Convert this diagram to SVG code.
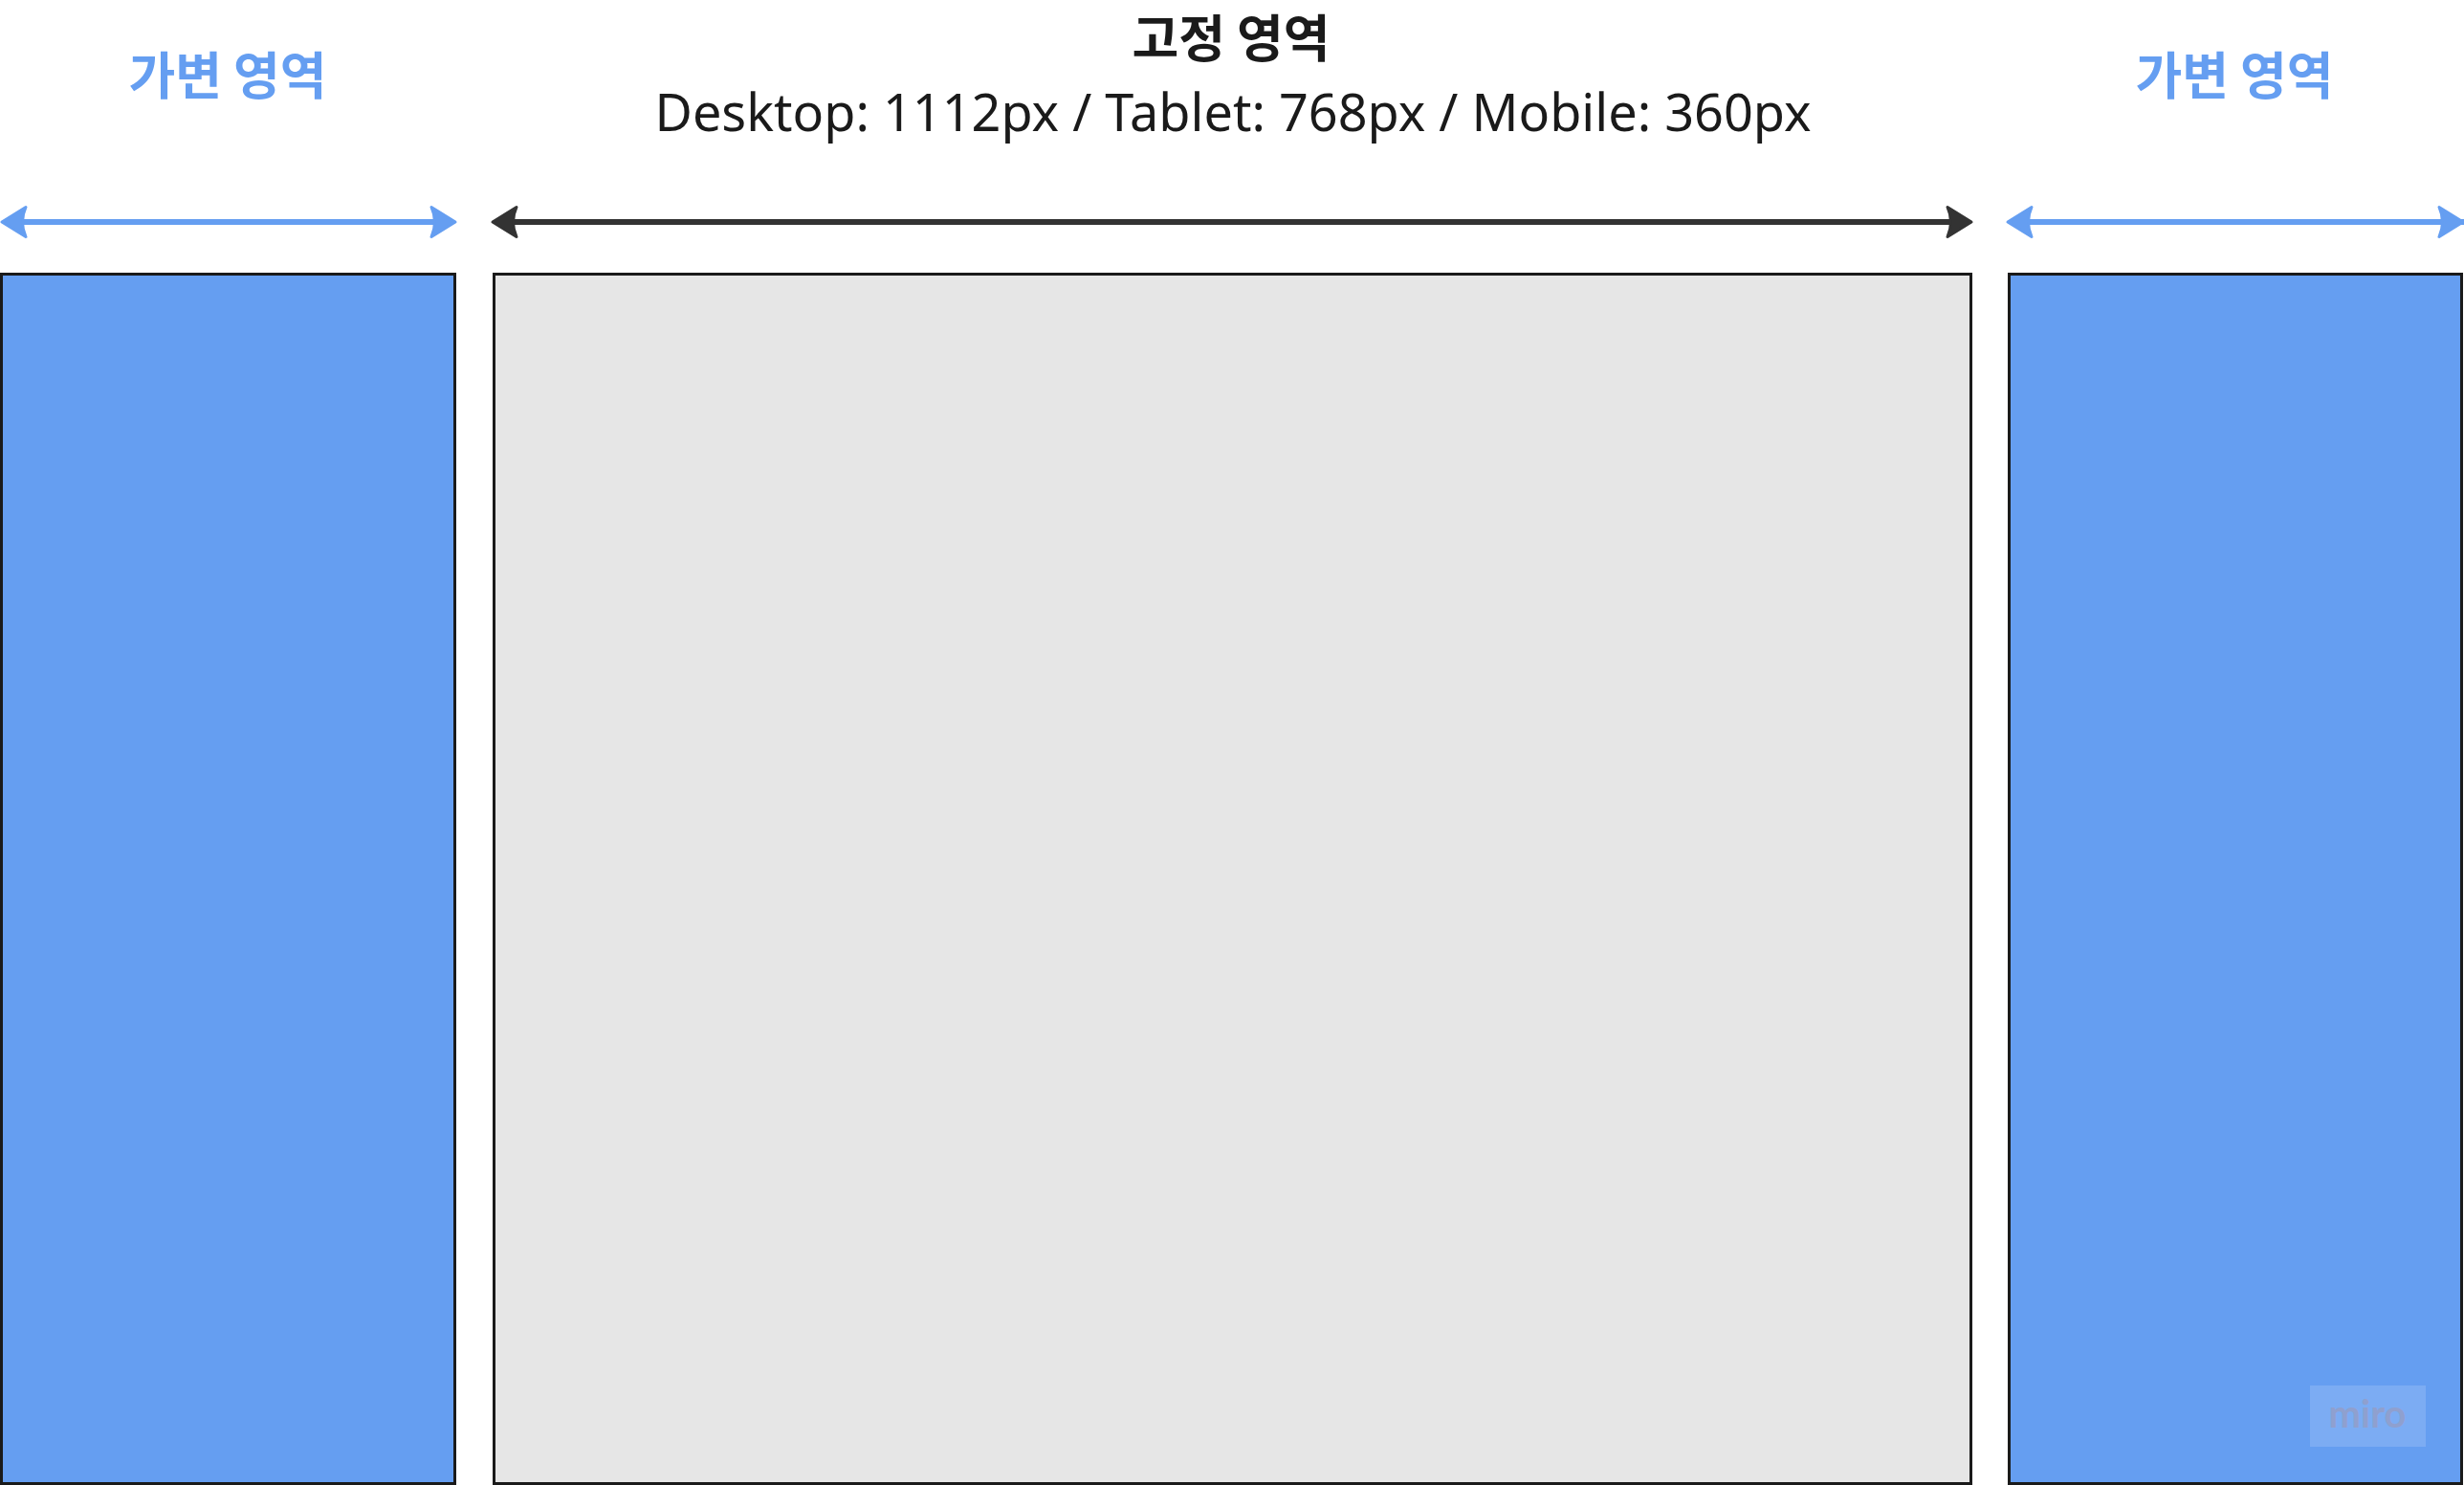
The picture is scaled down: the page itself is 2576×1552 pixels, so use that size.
<svg xmlns="http://www.w3.org/2000/svg" width="2576" height="1552" viewBox="0 0 2576 1552">
<style>
.ko{font-family:"Noto Sans CJK KR","Noto Sans",sans-serif;font-weight:700;font-size:53px;text-anchor:middle}
.blue{fill:#659ef1}
.dark{fill:#1a1a1a}
.sub{font-family:"Noto Sans","Open Sans",sans-serif;font-size:54px;fill:#1a1a1a;text-anchor:middle}
.box{stroke:#1a1a1a;stroke-width:3}
.bl{stroke:#659ef1;stroke-width:6;fill:none}
.dk{stroke:#333333;stroke-width:6;fill:none}
.hb{fill:#659ef1;stroke:#659ef1;stroke-width:3;stroke-linejoin:round}
.hd{fill:#333333;stroke:#333333;stroke-width:3;stroke-linejoin:round}
</style>
<rect width="2576" height="1552" fill="#ffffff"/>
<g id="left-area">
<rect class="box" x="1.5" y="286.5" width="474" height="1264" fill="#659ef1"/>
<text class="ko blue" x="238" y="99">가변 영역</text>
</g>
<g id="fixed-area">
<rect class="box" x="516.5" y="286.5" width="1544" height="1264" fill="#e6e6e6"/>
<text class="ko dark" x="1287" y="60">고정 영역</text>
<text class="sub" x="1289" y="137">Desktop: 1112px / Tablet: 768px / Mobile: 360px</text>
</g>
<g id="right-area">
<rect class="box" x="2100.5" y="286.5" width="473" height="1264" fill="#659ef1"/>
<text class="ko blue" x="2336" y="99">가변 영역</text>
<rect x="2415" y="1448" width="121" height="64" fill="#ffffff" fill-opacity="0.15"/>
<text x="2475" y="1492" font-family="Lato,'Noto Sans',sans-serif" font-weight="700" font-size="40" fill="#8fa0cf" text-anchor="middle">miro</text>
</g>
<g id="connectors">
<line class="bl" x1="18" y1="232" x2="460" y2="232"/>
<path class="hb" d="M2,232 L27,216.5 Q20,232 27,247.5 Z"/>
<path class="hb" d="M476,232 L451,216.5 Q458,232 451,247.5 Z"/>
<line class="dk" x1="532" y1="232" x2="2044" y2="232"/>
<path class="hd" d="M515,232 L540,216.5 Q533,232 540,247.5 Z"/>
<path class="hd" d="M2061,232 L2036,216.5 Q2043,232 2036,247.5 Z"/>
<line class="bl" x1="2115" y1="232" x2="2576" y2="232"/>
<path class="hb" d="M2099,232 L2124,216.5 Q2117,232 2124,247.5 Z"/>
<path class="hb" d="M2575,232 L2550,216.5 Q2557,232 2550,247.5 Z"/>
</g>
</svg>
